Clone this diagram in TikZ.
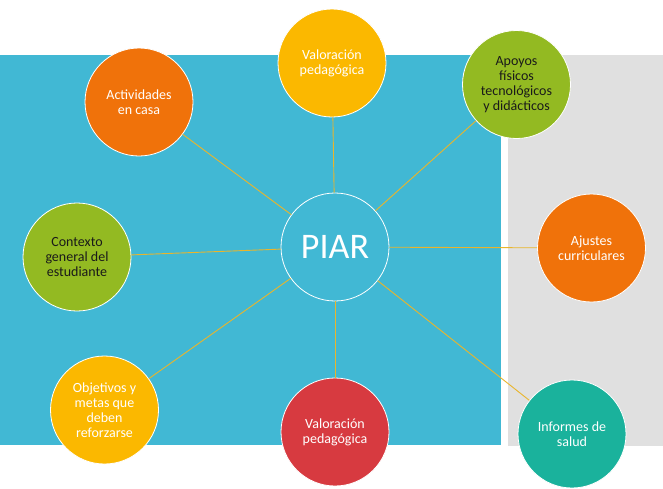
\documentclass[tikz,border=0pt]{standalone}
\usepackage{fontspec}
\setmainfont{Carlito}
\definecolor{bgblue}{HTML}{41B8D4}
\definecolor{bggrey}{HTML}{E0E0E0}
\definecolor{corange}{HTML}{F0720A}
\definecolor{cyellow}{HTML}{FBB800}
\definecolor{cgreen}{HTML}{93BA22}
\definecolor{cred}{HTML}{D73A40}
\definecolor{cteal}{HTML}{1AB29C}
\definecolor{clink}{HTML}{E9B52C}
\definecolor{darktext}{HTML}{1A1A1A}
\begin{document}
\begin{tikzpicture}[x=1pt,y=-1pt,
  bubble/.style={circle,draw=white,line width=0.8pt,minimum size=108pt,inner sep=0pt,align=center,font=\fontsize{14}{15}\selectfont},
  lighttxt/.style={text=white},
  darktxt/.style={text=darktext},
  link/.style={draw=clink,line width=0.9pt}]
\useasboundingbox (0,0) rectangle (663,488);
\fill[white] (0,0) rectangle (663,488);
\fill[bgblue] (0,55) rectangle (501,445);
\fill[bggrey] (508,55) rectangle (663,446);
% nodes
\node[bubble,draw=white,minimum size=108pt,font=\fontsize{36}{40}\selectfont,text=white] (piar) at (335,247) {PIAR};
\node[bubble,fill=cyellow,lighttxt] (valtop) at (332,63) {Valoración\\pedagógica};
\node[bubble,fill=cgreen,darktxt] (apoyos) at (516.5,84.5) {Apoyos\\físicos\\tecnológicos\\y didácticos};
\node[bubble,fill=corange,lighttxt] (ajustes) at (591.5,248) {Ajustes\\curriculares};
\node[bubble,fill=cteal,lighttxt] (informes) at (572,434) {Informes de\\salud};
\node[bubble,fill=cred,lighttxt] (valbot) at (335,432) {Valoración\\pedagógica};
\node[bubble,fill=cyellow,lighttxt] (objetivos) at (104.5,410) {Objetivos y\\metas que\\deben\\reforzarse};
\node[bubble,fill=cgreen,darktxt] (contexto) at (77,257) {Contexto\\general del\\estudiante};
\node[bubble,fill=corange,lighttxt] (actividades) at (139,102) {Actividades\\en casa};
% links
\begin{scope}[on background layer/.style={}]
\foreach \n in {valtop,apoyos,ajustes,informes,valbot,objetivos,contexto,actividades}
  \draw[link] (piar) -- (\n);
\end{scope}
\end{tikzpicture}
\end{document}
